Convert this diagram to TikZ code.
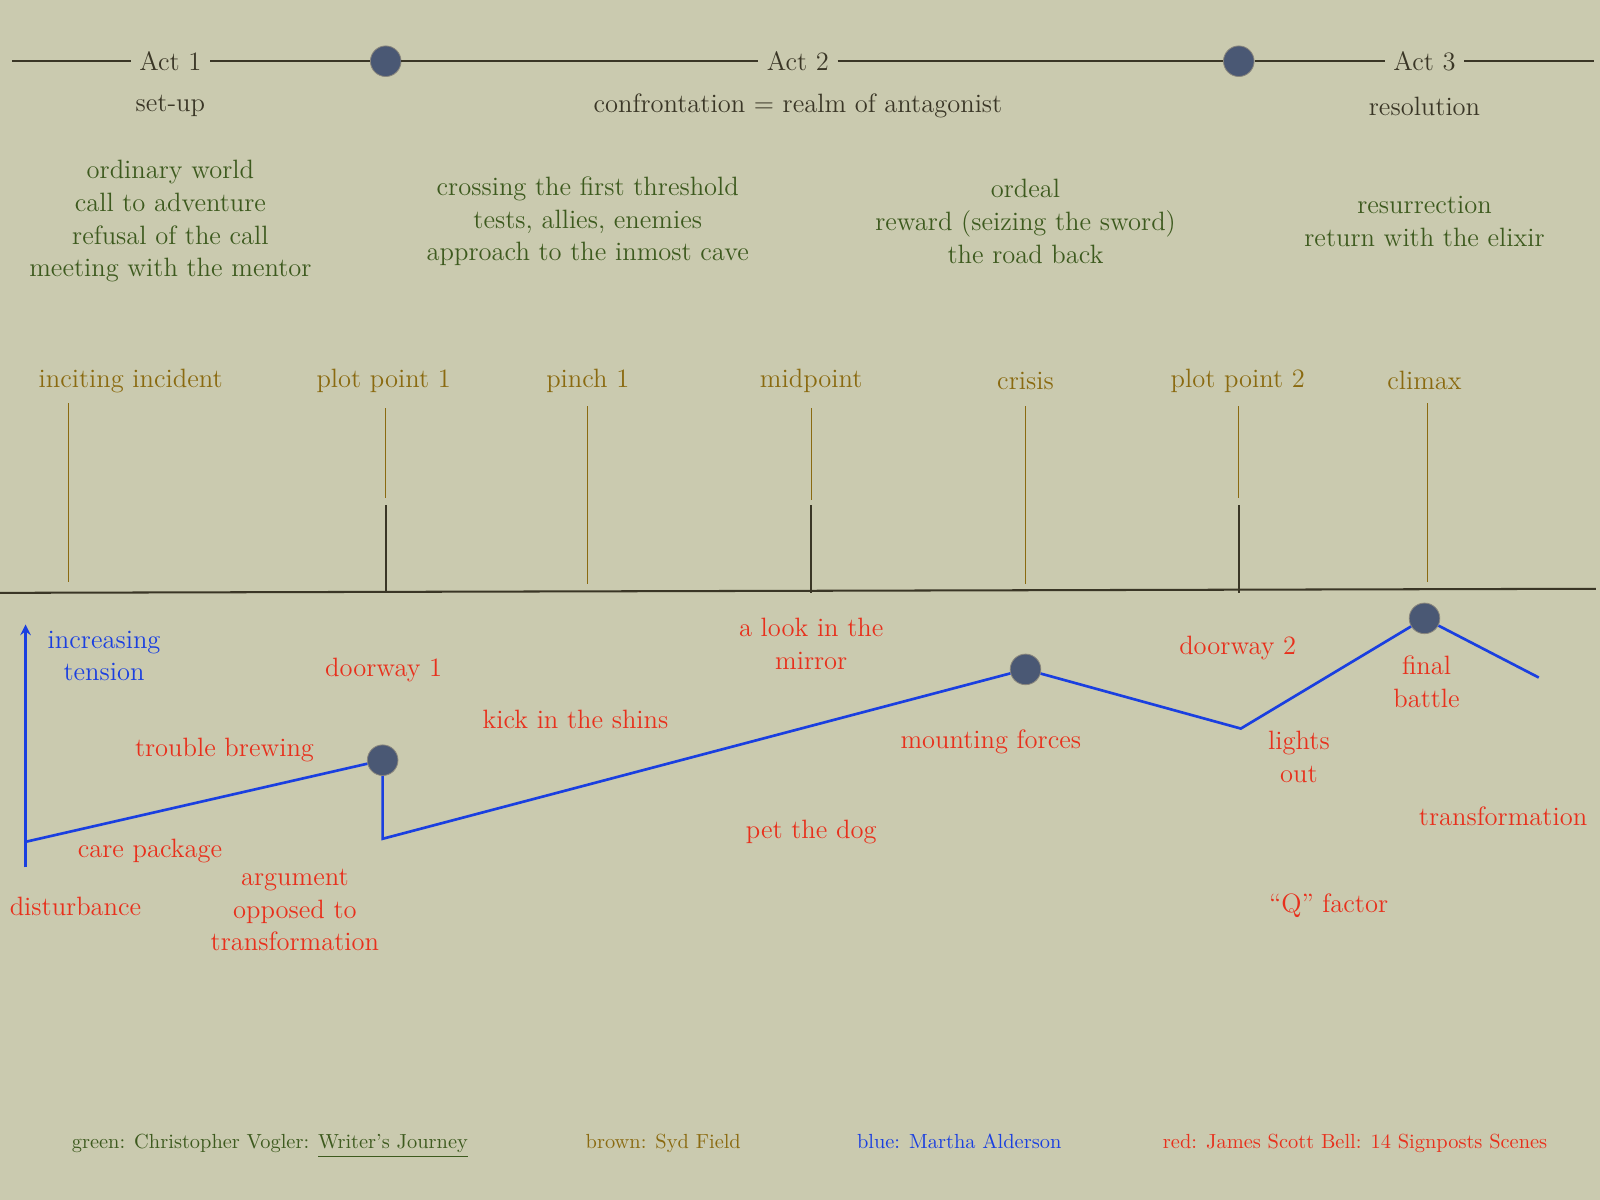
\documentclass[tikz,border=0pt]{standalone}
\usepackage{fontspec}
\setmainfont{Latin Modern Roman}
\begin{document}
\begin{tikzpicture}[x=0.5pt,y=-0.5pt,
  gr/.style={text=grn,font=\fontsize{13}{16}\selectfont,align=center,inner sep=0},
  br/.style={text=brn,font=\fontsize{13}{16}\selectfont,inner sep=0},
  rd/.style={text=red1,font=\fontsize{13}{16}\selectfont,align=center,inner sep=0},
  dk/.style={text=dark,font=\fontsize{13}{16}\selectfont,inner sep=0},
  lg/.style={font=\fontsize{10}{12}\selectfont,inner sep=0,anchor=base},
  dot/.style={circle,fill=dotc,draw=dark!60,line width=0.4pt,minimum size=15pt,inner sep=0},
  bline/.style={draw=brn,line width=0.6pt},
  kline/.style={draw=dark,line width=1pt},
  blu/.style={draw=blue1,line width=1.3pt}]
\definecolor{bg}{HTML}{CACAAF}
\definecolor{grn}{HTML}{3D5A1E}
\definecolor{brn}{HTML}{8A6A10}
\definecolor{red1}{HTML}{E8301C}
\definecolor{blue1}{HTML}{1A3FE0}
\definecolor{dark}{HTML}{3A3626}
\definecolor{dotc}{HTML}{4A5874}
\fill[bg] (0,0) rectangle (1568,1176);
\useasboundingbox (0,0) rectangle (1568,1176);
% top line
\node[dk] (a1) at (167,60) {Act 1};
\node[dk] (a2) at (782,60) {Act 2};
\node[dk] (a3) at (1396,60) {Act 3};
\node[dot] (d1) at (378,60) {};
\node[dot] (d2) at (1214,60) {};
\coordinate (l0) at (12,60); \coordinate (l9) at (1562,60);
\draw[kline] (l0) -- ([xshift=-4pt]a1.west);
\draw[kline] ([xshift=4pt]a1.east) -- (d1) -- ([xshift=-4pt]a2.west);
\draw[kline] ([xshift=4pt]a2.east) -- (d2) -- ([xshift=-4pt]a3.west);
\draw[kline] ([xshift=4pt]a3.east) -- (l9);
\node[dk] (s1) at (167,104) {set-up};
\node[dk] (s2) at (782,104) {confrontation = realm of antagonist};
\node[dk] (s3) at (1396,104) {resolution};
% green
\node[gr] (g1) at (167,217) {ordinary world\\call to adventure\\refusal of the call\\meeting with the mentor};
\node[gr] (g2) at (576,217) {crossing the first threshold\\tests, allies, enemies\\approach to the inmost cave};
\node[gr] (g3) at (1005,217) {ordeal\\reward (seizing the sword)\\the road back};
\node[gr] (g4) at (1396,217) {resurrection\\return with the elixir};
% brown labels
\node[br] (b1) at (128,373) {inciting incident};
\node[br] (b2) at (376,373) {plot point 1};
\node[br] (b3) at (576,373) {pinch 1};
\node[br] (b4) at (795,373) {midpoint};
\node[br] (b5) at (1005,373) {crisis};
\node[br] (b6) at (1213,373) {plot point 2};
\node[br] (b7) at (1396,373) {climax};
% axis
\coordinate (h0) at (0,581); \coordinate (h1) at (1564,577);
\draw[kline] (h0) -- (h1);
\draw[bline] (67,395) -- (67,570);
\draw[bline] (378,400) -- (378,488); \draw[kline] (378,495) -- (378,581);
\draw[bline] (576,398) -- (576,572);
\draw[bline] (795,400) -- (795,490); \draw[kline] (795,495) -- (795,581);
\draw[bline] (1005,398) -- (1005,572);
\draw[bline] (1214,398) -- (1214,488); \draw[kline] (1214,495) -- (1214,581);
\draw[bline] (1399,395) -- (1399,570);
% blue
\coordinate (ab) at (25,850); \coordinate (at) at (25,612);
\draw[blu,-stealth] (ab) -- (at);
\node[dot] (p1) at (375,745) {};
\node[dot] (p2) at (1005,656) {};
\node[dot] (p3) at (1396,606) {};
\coordinate (q0) at (25,825); \coordinate (q1) at (375,822);
\coordinate (q2) at (1216,714); \coordinate (q3) at (1508,664);
\draw[blu] (q0) -- (p1) -- (q1) -- (p2) -- (q2) -- (p3) -- (q3);
\node[text=blue1,font=\fontsize{13}{16}\selectfont,align=center,inner sep=0] (it) at (102,643) {increasing\\tension};
% red
\node[rd] (r1) at (376,657) {doorway 1};
\node[rd] (r2) at (220,735) {trouble brewing};
\node[rd] (r3) at (147,834) {care package};
\node[rd] (r4) at (74,888) {disturbance};
\node[rd] (r5) at (289,892) {argument\\opposed to\\transformation};
\node[rd] (r6) at (564,705) {kick in the shins};
\node[rd] (r7) at (795,631) {a look in the\\mirror};
\node[rd] (r8) at (795,815) {pet the dog};
\node[rd] (r9) at (971,727) {mounting forces};
\node[rd] (r10) at (1213,635) {doorway 2};
\node[rd] (r11) at (1273,742) {lights\\out};
\node[rd] (r12) at (1398,668) {final\\battle};
\node[rd] (r13) at (1473,800) {transformation};
\node[rd] (r14) at (1302,888) {“Q” factor};
% legend
\node[lg,text=grn,anchor=base west] (lg1) at (70,1126) {green: Christopher Vogler: \underline{Writer’s Journey}};
\node[lg,text=brn] (lg2) at (650,1126) {brown: Syd Field};
\node[lg,text=blue1] (lg3) at (940,1126) {blue: Martha Alderson};
\node[lg,text=red1] (lg4) at (1328,1126) {red: James Scott Bell: 14 Signposts Scenes};
\end{tikzpicture}
\end{document}
